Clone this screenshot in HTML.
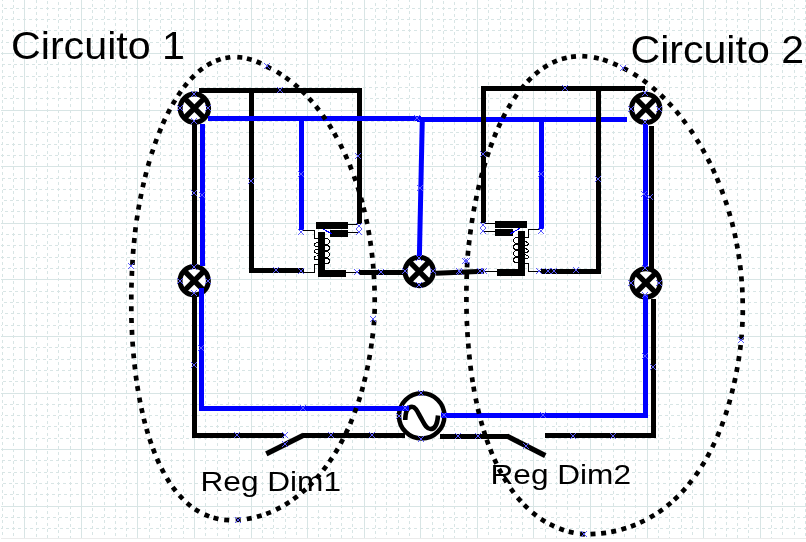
<!DOCTYPE html>
<html><head><meta charset="utf-8"><style>html,body{margin:0;padding:0;background:#fff;overflow:hidden}svg{display:block}</style></head>
<body><svg width="806" height="542" viewBox="0 0 806 542">
<defs><clipPath id="gc"><rect x="1" y="0" width="806" height="539"/></clipPath></defs>
<rect width="806" height="542" fill="#fff"/>
<g shape-rendering="crispEdges">
<line x1="2.5" y1="-2" x2="2.5" y2="539" stroke="#d8e5e5" stroke-width="1" stroke-dasharray="3 3"/>
<line x1="13.5" y1="-1" x2="13.5" y2="539" stroke="#d8e5e5" stroke-width="1" stroke-dasharray="3 3"/>
<rect x="24" y="0" width="1" height="539" fill="#d8e5e5"/>
<line x1="36.5" y1="-6" x2="36.5" y2="539" stroke="#d8e5e5" stroke-width="1" stroke-dasharray="3 3"/>
<line x1="47.5" y1="-5" x2="47.5" y2="539" stroke="#d8e5e5" stroke-width="1" stroke-dasharray="3 3"/>
<line x1="58.5" y1="-4" x2="58.5" y2="539" stroke="#d8e5e5" stroke-width="1" stroke-dasharray="3 3"/>
<line x1="70.5" y1="-4" x2="70.5" y2="539" stroke="#d8e5e5" stroke-width="1" stroke-dasharray="3 3"/>
<rect x="81" y="0" width="1" height="539" fill="#d8e5e5"/>
<line x1="92.5" y1="-2" x2="92.5" y2="539" stroke="#d8e5e5" stroke-width="1" stroke-dasharray="3 3"/>
<line x1="104.5" y1="-2" x2="104.5" y2="539" stroke="#d8e5e5" stroke-width="1" stroke-dasharray="3 3"/>
<line x1="115.5" y1="-1" x2="115.5" y2="539" stroke="#d8e5e5" stroke-width="1" stroke-dasharray="3 3"/>
<line x1="126.5" y1="-6" x2="126.5" y2="539" stroke="#d8e5e5" stroke-width="1" stroke-dasharray="3 3"/>
<rect x="137" y="0" width="1" height="539" fill="#d8e5e5"/>
<line x1="149.5" y1="-5" x2="149.5" y2="539" stroke="#d8e5e5" stroke-width="1" stroke-dasharray="3 3"/>
<line x1="160.5" y1="-4" x2="160.5" y2="539" stroke="#d8e5e5" stroke-width="1" stroke-dasharray="3 3"/>
<line x1="171.5" y1="-3" x2="171.5" y2="539" stroke="#d8e5e5" stroke-width="1" stroke-dasharray="3 3"/>
<line x1="183.5" y1="-3" x2="183.5" y2="539" stroke="#d8e5e5" stroke-width="1" stroke-dasharray="3 3"/>
<rect x="194" y="0" width="1" height="539" fill="#d8e5e5"/>
<line x1="205.5" y1="-1" x2="205.5" y2="539" stroke="#d8e5e5" stroke-width="1" stroke-dasharray="3 3"/>
<line x1="217.5" y1="-1" x2="217.5" y2="539" stroke="#d8e5e5" stroke-width="1" stroke-dasharray="3 3"/>
<line x1="228.5" y1="-6" x2="228.5" y2="539" stroke="#d8e5e5" stroke-width="1" stroke-dasharray="3 3"/>
<line x1="239.5" y1="-5" x2="239.5" y2="539" stroke="#d8e5e5" stroke-width="1" stroke-dasharray="3 3"/>
<rect x="251" y="0" width="1" height="539" fill="#d8e5e5"/>
<line x1="262.5" y1="-4" x2="262.5" y2="539" stroke="#d8e5e5" stroke-width="1" stroke-dasharray="3 3"/>
<line x1="273.5" y1="-3" x2="273.5" y2="539" stroke="#d8e5e5" stroke-width="1" stroke-dasharray="3 3"/>
<line x1="285.5" y1="-3" x2="285.5" y2="539" stroke="#d8e5e5" stroke-width="1" stroke-dasharray="3 3"/>
<line x1="296.5" y1="-2" x2="296.5" y2="539" stroke="#d8e5e5" stroke-width="1" stroke-dasharray="3 3"/>
<rect x="307" y="0" width="1" height="539" fill="#d8e5e5"/>
<line x1="318.5" y1="-6" x2="318.5" y2="539" stroke="#d8e5e5" stroke-width="1" stroke-dasharray="3 3"/>
<line x1="330.5" y1="-6" x2="330.5" y2="539" stroke="#d8e5e5" stroke-width="1" stroke-dasharray="3 3"/>
<line x1="341.5" y1="-5" x2="341.5" y2="539" stroke="#d8e5e5" stroke-width="1" stroke-dasharray="3 3"/>
<line x1="352.5" y1="-4" x2="352.5" y2="539" stroke="#d8e5e5" stroke-width="1" stroke-dasharray="3 3"/>
<rect x="364" y="0" width="1" height="539" fill="#d8e5e5"/>
<line x1="375.5" y1="-3" x2="375.5" y2="539" stroke="#d8e5e5" stroke-width="1" stroke-dasharray="3 3"/>
<line x1="386.5" y1="-2" x2="386.5" y2="539" stroke="#d8e5e5" stroke-width="1" stroke-dasharray="3 3"/>
<line x1="398.5" y1="-2" x2="398.5" y2="539" stroke="#d8e5e5" stroke-width="1" stroke-dasharray="3 3"/>
<line x1="409.5" y1="-1" x2="409.5" y2="539" stroke="#d8e5e5" stroke-width="1" stroke-dasharray="3 3"/>
<rect x="420" y="0" width="1" height="539" fill="#d8e5e5"/>
<line x1="432.5" y1="-6" x2="432.5" y2="539" stroke="#d8e5e5" stroke-width="1" stroke-dasharray="3 3"/>
<line x1="443.5" y1="-5" x2="443.5" y2="539" stroke="#d8e5e5" stroke-width="1" stroke-dasharray="3 3"/>
<line x1="454.5" y1="-4" x2="454.5" y2="539" stroke="#d8e5e5" stroke-width="1" stroke-dasharray="3 3"/>
<line x1="466.5" y1="-4" x2="466.5" y2="539" stroke="#d8e5e5" stroke-width="1" stroke-dasharray="3 3"/>
<rect x="477" y="0" width="1" height="539" fill="#d8e5e5"/>
<line x1="488.5" y1="-2" x2="488.5" y2="539" stroke="#d8e5e5" stroke-width="1" stroke-dasharray="3 3"/>
<line x1="500.5" y1="-2" x2="500.5" y2="539" stroke="#d8e5e5" stroke-width="1" stroke-dasharray="3 3"/>
<line x1="511.5" y1="-1" x2="511.5" y2="539" stroke="#d8e5e5" stroke-width="1" stroke-dasharray="3 3"/>
<line x1="522.5" y1="-6" x2="522.5" y2="539" stroke="#d8e5e5" stroke-width="1" stroke-dasharray="3 3"/>
<rect x="533" y="0" width="1" height="539" fill="#d8e5e5"/>
<line x1="545.5" y1="-5" x2="545.5" y2="539" stroke="#d8e5e5" stroke-width="1" stroke-dasharray="3 3"/>
<line x1="556.5" y1="-4" x2="556.5" y2="539" stroke="#d8e5e5" stroke-width="1" stroke-dasharray="3 3"/>
<line x1="567.5" y1="-3" x2="567.5" y2="539" stroke="#d8e5e5" stroke-width="1" stroke-dasharray="3 3"/>
<line x1="579.5" y1="-3" x2="579.5" y2="539" stroke="#d8e5e5" stroke-width="1" stroke-dasharray="3 3"/>
<rect x="590" y="0" width="1" height="539" fill="#d8e5e5"/>
<line x1="601.5" y1="-1" x2="601.5" y2="539" stroke="#d8e5e5" stroke-width="1" stroke-dasharray="3 3"/>
<line x1="613.5" y1="-1" x2="613.5" y2="539" stroke="#d8e5e5" stroke-width="1" stroke-dasharray="3 3"/>
<line x1="624.5" y1="-6" x2="624.5" y2="539" stroke="#d8e5e5" stroke-width="1" stroke-dasharray="3 3"/>
<line x1="635.5" y1="-5" x2="635.5" y2="539" stroke="#d8e5e5" stroke-width="1" stroke-dasharray="3 3"/>
<rect x="647" y="0" width="1" height="539" fill="#d8e5e5"/>
<line x1="658.5" y1="-4" x2="658.5" y2="539" stroke="#d8e5e5" stroke-width="1" stroke-dasharray="3 3"/>
<line x1="669.5" y1="-3" x2="669.5" y2="539" stroke="#d8e5e5" stroke-width="1" stroke-dasharray="3 3"/>
<line x1="681.5" y1="-3" x2="681.5" y2="539" stroke="#d8e5e5" stroke-width="1" stroke-dasharray="3 3"/>
<line x1="692.5" y1="-2" x2="692.5" y2="539" stroke="#d8e5e5" stroke-width="1" stroke-dasharray="3 3"/>
<rect x="703" y="0" width="1" height="539" fill="#d8e5e5"/>
<line x1="715.5" y1="-1" x2="715.5" y2="539" stroke="#d8e5e5" stroke-width="1" stroke-dasharray="3 3"/>
<line x1="726.5" y1="-6" x2="726.5" y2="539" stroke="#d8e5e5" stroke-width="1" stroke-dasharray="3 3"/>
<line x1="737.5" y1="-5" x2="737.5" y2="539" stroke="#d8e5e5" stroke-width="1" stroke-dasharray="3 3"/>
<line x1="748.5" y1="-4" x2="748.5" y2="539" stroke="#d8e5e5" stroke-width="1" stroke-dasharray="3 3"/>
<rect x="760" y="0" width="1" height="539" fill="#d8e5e5"/>
<line x1="771.5" y1="-3" x2="771.5" y2="539" stroke="#d8e5e5" stroke-width="1" stroke-dasharray="3 3"/>
<line x1="782.5" y1="-2" x2="782.5" y2="539" stroke="#d8e5e5" stroke-width="1" stroke-dasharray="3 3"/>
<line x1="794.5" y1="-2" x2="794.5" y2="539" stroke="#d8e5e5" stroke-width="1" stroke-dasharray="3 3"/>
<line x1="805.5" y1="-1" x2="805.5" y2="539" stroke="#d8e5e5" stroke-width="1" stroke-dasharray="3 3"/>
<line x1="-2" y1="8.5" x2="806" y2="8.5" stroke="#d8e5e5" stroke-width="1" stroke-dasharray="3 3" clip-path="url(#gc)"/>
<line x1="-1" y1="19.5" x2="806" y2="19.5" stroke="#d8e5e5" stroke-width="1" stroke-dasharray="3 3" clip-path="url(#gc)"/>
<line x1="-6" y1="30.5" x2="806" y2="30.5" stroke="#d8e5e5" stroke-width="1" stroke-dasharray="3 3" clip-path="url(#gc)"/>
<line x1="-6" y1="42.5" x2="806" y2="42.5" stroke="#d8e5e5" stroke-width="1" stroke-dasharray="3 3" clip-path="url(#gc)"/>
<rect x="1" y="53" width="805" height="1" fill="#d8e5e5"/>
<line x1="-4" y1="64.5" x2="806" y2="64.5" stroke="#d8e5e5" stroke-width="1" stroke-dasharray="3 3" clip-path="url(#gc)"/>
<line x1="-4" y1="76.5" x2="806" y2="76.5" stroke="#d8e5e5" stroke-width="1" stroke-dasharray="3 3" clip-path="url(#gc)"/>
<line x1="-3" y1="87.5" x2="806" y2="87.5" stroke="#d8e5e5" stroke-width="1" stroke-dasharray="3 3" clip-path="url(#gc)"/>
<line x1="-2" y1="98.5" x2="806" y2="98.5" stroke="#d8e5e5" stroke-width="1" stroke-dasharray="3 3" clip-path="url(#gc)"/>
<rect x="1" y="110" width="805" height="1" fill="#d8e5e5"/>
<line x1="-1" y1="121.5" x2="806" y2="121.5" stroke="#d8e5e5" stroke-width="1" stroke-dasharray="3 3" clip-path="url(#gc)"/>
<line x1="-6" y1="132.5" x2="806" y2="132.5" stroke="#d8e5e5" stroke-width="1" stroke-dasharray="3 3" clip-path="url(#gc)"/>
<line x1="-6" y1="144.5" x2="806" y2="144.5" stroke="#d8e5e5" stroke-width="1" stroke-dasharray="3 3" clip-path="url(#gc)"/>
<line x1="-5" y1="155.5" x2="806" y2="155.5" stroke="#d8e5e5" stroke-width="1" stroke-dasharray="3 3" clip-path="url(#gc)"/>
<rect x="1" y="166" width="805" height="1" fill="#d8e5e5"/>
<line x1="-4" y1="178.5" x2="806" y2="178.5" stroke="#d8e5e5" stroke-width="1" stroke-dasharray="3 3" clip-path="url(#gc)"/>
<line x1="-3" y1="189.5" x2="806" y2="189.5" stroke="#d8e5e5" stroke-width="1" stroke-dasharray="3 3" clip-path="url(#gc)"/>
<line x1="-2" y1="200.5" x2="806" y2="200.5" stroke="#d8e5e5" stroke-width="1" stroke-dasharray="3 3" clip-path="url(#gc)"/>
<line x1="-1" y1="211.5" x2="806" y2="211.5" stroke="#d8e5e5" stroke-width="1" stroke-dasharray="3 3" clip-path="url(#gc)"/>
<rect x="1" y="223" width="805" height="1" fill="#d8e5e5"/>
<line x1="-6" y1="234.5" x2="806" y2="234.5" stroke="#d8e5e5" stroke-width="1" stroke-dasharray="3 3" clip-path="url(#gc)"/>
<line x1="-5" y1="245.5" x2="806" y2="245.5" stroke="#d8e5e5" stroke-width="1" stroke-dasharray="3 3" clip-path="url(#gc)"/>
<line x1="-5" y1="257.5" x2="806" y2="257.5" stroke="#d8e5e5" stroke-width="1" stroke-dasharray="3 3" clip-path="url(#gc)"/>
<line x1="-4" y1="268.5" x2="806" y2="268.5" stroke="#d8e5e5" stroke-width="1" stroke-dasharray="3 3" clip-path="url(#gc)"/>
<rect x="1" y="279" width="805" height="1" fill="#d8e5e5"/>
<line x1="-3" y1="291.5" x2="806" y2="291.5" stroke="#d8e5e5" stroke-width="1" stroke-dasharray="3 3" clip-path="url(#gc)"/>
<line x1="-2" y1="302.5" x2="806" y2="302.5" stroke="#d8e5e5" stroke-width="1" stroke-dasharray="3 3" clip-path="url(#gc)"/>
<line x1="-1" y1="313.5" x2="806" y2="313.5" stroke="#d8e5e5" stroke-width="1" stroke-dasharray="3 3" clip-path="url(#gc)"/>
<line x1="-1" y1="325.5" x2="806" y2="325.5" stroke="#d8e5e5" stroke-width="1" stroke-dasharray="3 3" clip-path="url(#gc)"/>
<rect x="1" y="336" width="805" height="1" fill="#d8e5e5"/>
<line x1="-5" y1="347.5" x2="806" y2="347.5" stroke="#d8e5e5" stroke-width="1" stroke-dasharray="3 3" clip-path="url(#gc)"/>
<line x1="-5" y1="359.5" x2="806" y2="359.5" stroke="#d8e5e5" stroke-width="1" stroke-dasharray="3 3" clip-path="url(#gc)"/>
<line x1="-4" y1="370.5" x2="806" y2="370.5" stroke="#d8e5e5" stroke-width="1" stroke-dasharray="3 3" clip-path="url(#gc)"/>
<line x1="-3" y1="381.5" x2="806" y2="381.5" stroke="#d8e5e5" stroke-width="1" stroke-dasharray="3 3" clip-path="url(#gc)"/>
<rect x="1" y="393" width="805" height="1" fill="#d8e5e5"/>
<line x1="-2" y1="404.5" x2="806" y2="404.5" stroke="#d8e5e5" stroke-width="1" stroke-dasharray="3 3" clip-path="url(#gc)"/>
<line x1="-1" y1="415.5" x2="806" y2="415.5" stroke="#d8e5e5" stroke-width="1" stroke-dasharray="3 3" clip-path="url(#gc)"/>
<line x1="-6" y1="426.5" x2="806" y2="426.5" stroke="#d8e5e5" stroke-width="1" stroke-dasharray="3 3" clip-path="url(#gc)"/>
<line x1="-6" y1="438.5" x2="806" y2="438.5" stroke="#d8e5e5" stroke-width="1" stroke-dasharray="3 3" clip-path="url(#gc)"/>
<rect x="1" y="449" width="805" height="1" fill="#d8e5e5"/>
<line x1="-4" y1="460.5" x2="806" y2="460.5" stroke="#d8e5e5" stroke-width="1" stroke-dasharray="3 3" clip-path="url(#gc)"/>
<line x1="-4" y1="472.5" x2="806" y2="472.5" stroke="#d8e5e5" stroke-width="1" stroke-dasharray="3 3" clip-path="url(#gc)"/>
<line x1="-3" y1="483.5" x2="806" y2="483.5" stroke="#d8e5e5" stroke-width="1" stroke-dasharray="3 3" clip-path="url(#gc)"/>
<line x1="-2" y1="494.5" x2="806" y2="494.5" stroke="#d8e5e5" stroke-width="1" stroke-dasharray="3 3" clip-path="url(#gc)"/>
<rect x="1" y="506" width="805" height="1" fill="#d8e5e5"/>
<line x1="-1" y1="517.5" x2="806" y2="517.5" stroke="#d8e5e5" stroke-width="1" stroke-dasharray="3 3" clip-path="url(#gc)"/>
<line x1="-6" y1="528.5" x2="806" y2="528.5" stroke="#d8e5e5" stroke-width="1" stroke-dasharray="3 3" clip-path="url(#gc)"/>
<rect x="1" y="538" width="805" height="1" fill="#ebebeb"/>
</g>
<g style="filter:grayscale(1)"><text x="11" y="59" font-family="Liberation Sans, sans-serif" font-size="38" textLength="174" lengthAdjust="spacingAndGlyphs" fill="#000">Circuito 1</text><text x="630.5" y="62.5" font-family="Liberation Sans, sans-serif" font-size="38" textLength="173.5" lengthAdjust="spacingAndGlyphs" fill="#000">Circuito 2</text><text x="200.5" y="491.4" font-family="Liberation Sans, sans-serif" font-size="28.5" textLength="140.5" lengthAdjust="spacingAndGlyphs" fill="#000">Reg Dim1</text><text x="490.5" y="484.4" font-family="Liberation Sans, sans-serif" font-size="28.5" textLength="140.5" lengthAdjust="spacingAndGlyphs" fill="#000">Reg Dim2</text></g>
<circle cx="194.4" cy="108.2" r="14.2" fill="#fff" stroke="#000" stroke-width="5.0"/><path d="M184.35918,98.15918L204.44082,118.24082M204.44082,98.15918L184.35918,118.24082" stroke="#000" stroke-width="5.4"/>
<circle cx="194.2" cy="280.8" r="14.2" fill="#fff" stroke="#000" stroke-width="5.0"/><path d="M184.15918,270.75918L204.24081999999999,290.84082M204.24081999999999,270.75918L184.15918,290.84082" stroke="#000" stroke-width="5.4"/>
<circle cx="419.2" cy="271.5" r="14.2" fill="#fff" stroke="#000" stroke-width="5.0"/><path d="M409.15918,261.45918L429.24082,281.54082M429.24082,261.45918L409.15918,281.54082" stroke="#000" stroke-width="5.4"/>
<circle cx="645.7" cy="108.5" r="14.2" fill="#fff" stroke="#000" stroke-width="5.0"/><path d="M635.65918,98.45918L655.7408200000001,118.54082M655.7408200000001,98.45918L635.65918,118.54082" stroke="#000" stroke-width="5.4"/>
<circle cx="645.85" cy="282.85" r="14.2" fill="#fff" stroke="#000" stroke-width="5.0"/><path d="M635.80918,272.80918L655.8908200000001,292.89082M655.8908200000001,272.80918L635.80918,292.89082" stroke="#000" stroke-width="5.4"/>
<circle cx="421.7" cy="415.9" r="22.7" fill="#fff" stroke="#000" stroke-width="4.5"/><path d="M405.2,420 C405.5,409 408.5,406.8 412,406.8 C416,406.8 418,413 421,418 C424,423 426,429 430.5,429 C435,429 437.5,423 438,415.5" fill="none" stroke="#000" stroke-width="4.6"/>
<g shape-rendering="crispEdges"><rect x="316" y="222" width="32" height="7" fill="#000"/>
<rect x="330" y="230" width="18" height="7" fill="#000"/>
<rect x="318" y="232" width="7" height="45" fill="#000"/>
<rect x="318" y="270" width="28" height="7" fill="#000"/>
<path d="M303,230.5H314.5V238.5H318" stroke="#000" stroke-width="1" fill="none"/>
<path d="M348,224.5H357" stroke="#000" stroke-width="1" fill="none"/>
<path d="M348,232.5H358" stroke="#000" stroke-width="1" fill="none"/>
<path d="M346,272.5H359" stroke="#000" stroke-width="1" fill="none"/>
<path d="M318,264.5H314.5V272.5H303" stroke="#000" stroke-width="1" fill="none"/>
<path d="M318,242.8c-5.2,0 -5.2,4 0,4 M318,249.3c-5.2,0 -5.2,4 0,4 M318,255.89999999999998c-5.2,0 -5.2,4 0,4" stroke="#000" stroke-width="1" fill="none"/>
<path d="M325,238.5c6,0 6,6 0,6 M325,245c6,0 6,6 0,6 M325,251.5c6,0 6,6 0,6 M325,258c6,0 6,6 0,6" stroke="#000" stroke-width="1" fill="none"/>
<line x1="323" y1="229" x2="331.6" y2="233.7" stroke="#0000ff" stroke-width="1.2"/><rect x="495" y="221" width="32" height="7" fill="#000"/>
<rect x="495" y="229" width="18" height="7" fill="#000"/>
<rect x="518" y="231" width="7" height="45" fill="#000"/>
<rect x="497" y="269" width="28" height="7" fill="#000"/>
<path d="M539,229.5H528.5V237.5H525" stroke="#000" stroke-width="1" fill="none"/>
<path d="M485,223.5H495" stroke="#000" stroke-width="1" fill="none"/>
<path d="M484,231.5H495" stroke="#000" stroke-width="1" fill="none"/>
<path d="M484,271.5H497" stroke="#000" stroke-width="1" fill="none"/>
<path d="M525,263.5H528.5V271.5H541" stroke="#000" stroke-width="1" fill="none"/>
<path d="M518,237.5c-6,0 -6,6 0,6 M518,244c-6,0 -6,6 0,6 M518,250.5c-6,0 -6,6 0,6 M518,257c-6,0 -6,6 0,6" stroke="#000" stroke-width="1" fill="none"/>
<path d="M525,241.8c4.6,0 4.6,4 0,4 M525,248.8c4.6,0 4.6,4 0,4 M525,254.89999999999998c4.6,0 4.6,4 0,4" stroke="#000" stroke-width="1" fill="none"/>
<line x1="510.1" y1="233.7" x2="519.7" y2="228.5" stroke="#0000ff" stroke-width="1.2"/></g>
<g shape-rendering="crispEdges">
<rect x="199" y="88" width="163" height="5" fill="#000"/>
<rect x="249" y="88" width="5" height="185" fill="#000"/>
<rect x="249" y="268" width="55" height="5" fill="#000"/>
<rect x="357" y="88" width="5" height="136" fill="#000"/>
<rect x="192" y="124" width="5" height="141" fill="#000"/>
<rect x="192" y="297" width="5" height="141" fill="#000"/>
<rect x="192" y="433" width="92" height="5" fill="#000"/>
<rect x="303" y="433" width="102" height="5" fill="#000"/>
<rect x="359" y="270" width="44" height="5" fill="#000"/>
<rect x="208" y="116" width="213" height="5" fill="#0000ff"/>
<rect x="417" y="117" width="210" height="5" fill="#0000ff"/>
<rect x="299" y="116" width="5" height="114" fill="#0000ff"/>
<rect x="200" y="124" width="5" height="142" fill="#0000ff"/>
<rect x="199" y="288" width="5" height="123" fill="#0000ff"/>
<rect x="199" y="406" width="210" height="5" fill="#0000ff"/>
<rect x="481" y="86" width="164" height="5" fill="#000"/>
<rect x="481" y="86" width="5" height="137" fill="#000"/>
<rect x="596" y="86" width="5" height="188" fill="#000"/>
<rect x="541" y="269" width="60" height="5" fill="#000"/>
<rect x="649" y="126" width="5" height="144" fill="#000"/>
<rect x="651" y="299" width="5" height="139" fill="#000"/>
<rect x="545" y="433" width="111" height="5" fill="#000"/>
<rect x="440" y="434" width="68" height="5" fill="#000"/>
<rect x="539" y="117" width="5" height="112" fill="#0000ff"/>
<rect x="643" y="124" width="5" height="143" fill="#0000ff"/>
<rect x="643" y="295" width="5" height="123" fill="#0000ff"/>
<rect x="441" y="413" width="207" height="5" fill="#0000ff"/>
</g>
<line x1="422.3" y1="119" x2="419.4" y2="256" stroke="#0000ff" stroke-width="5"/>
<line x1="436" y1="273.3" x2="484" y2="271.3" stroke="#000" stroke-width="5"/>
<line x1="266.3" y1="453.9" x2="303.7" y2="435.2" stroke="#000" stroke-width="5.2"/>
<line x1="507" y1="436" x2="545.3" y2="455.6" stroke="#000" stroke-width="5.2"/>
<path d="M266.4,66.5L271.0,68.6M276.9,71.8L281.2,74.4M285.5,77.3L289.5,80.3M294.4,84.2L298.2,87.5M301.8,90.9L305.4,94.4M308.9,98.2L312.2,101.9M315.9,106.3L319.0,110.2M322.7,115.3L325.5,119.4M329.0,124.5L331.6,128.8M334.2,133.3L336.7,137.6M340.2,144.2L342.4,148.7M345.2,154.5L347.2,159.1M349.7,164.9L351.5,169.6M354.0,176.2L355.7,180.9M357.7,187.1L359.2,191.8M361.0,197.9L362.3,202.7M363.5,207.5L364.7,212.3M366.2,219.2L367.3,224.1M368.4,230.2L369.3,235.2M370.2,240.9L370.9,245.9M371.8,252.7L372.4,257.7M373.0,263.7L373.4,268.6M373.8,274.3L374.1,279.2M374.4,285.7L374.6,290.7M374.7,297.3L374.7,302.3M374.7,308.9L374.5,313.9M374.2,320.2L373.8,325.2M372.9,333.4L372.3,338.4M371.6,343.5L370.9,348.5M369.9,354.9L369.0,359.8M367.9,365.5L366.9,370.4M365.4,376.9L364.2,381.7M362.9,386.8L361.6,391.6M360.0,397.0L358.5,401.7M356.3,408.0L354.6,412.7M352.1,419.2L350.2,423.8M347.9,429.1L345.7,433.6M342.9,439.2L340.6,443.6M337.8,448.7L335.2,452.9M332.1,457.9L329.3,462.0M326.3,466.2L323.3,470.2M319.8,474.5L316.5,478.3M312.8,482.3L309.3,485.9M305.8,489.2L302.0,492.5M297.5,496.2L293.5,499.2M289.4,502.0L285.2,504.7M280.5,507.4L276.1,509.7M270.9,512.1L266.2,513.9M261.7,515.4L256.9,516.8M251.7,518.1L246.8,519.0M240.7,519.7L235.7,520.0M229.2,520.2L224.2,519.8M218.4,519.0L213.5,517.8M209.2,516.4L204.6,514.5M199.2,511.8L195.0,509.2M190.8,506.2L187.0,503.0M182.8,499.0L179.4,495.4M175.7,491.0L172.7,487.1M169.5,482.4L166.9,478.2M163.9,473.0L161.6,468.6M159.1,463.4L157.0,458.8M154.8,453.4L153.0,448.7M151.2,443.8L149.6,439.0M147.9,433.7L146.5,428.9M145.0,423.5L143.8,418.7M142.5,413.1L141.4,408.2M140.2,402.5L139.3,397.6M138.1,390.9L137.3,386.0M136.5,380.6L135.8,375.6M135.1,369.4L134.5,364.4M133.9,358.3L133.4,353.4M132.9,346.6L132.5,341.6M132.1,334.8L131.9,329.8M131.6,323.0L131.4,318.0M131.3,311.2L131.3,306.2M131.3,299.4L131.3,294.4M131.4,287.6L131.6,282.6M131.8,275.9L132.0,270.9M132.4,264.8L132.6,259.8M133.0,253.9L133.4,248.9M134.0,242.9L134.5,237.9M135.1,232.2L135.7,227.2M136.6,220.5L137.4,215.5M138.3,209.7L139.2,204.7M140.3,198.8L141.3,193.9M142.7,187.3L143.8,182.5M145.1,177.1L146.3,172.3M148.0,166.0L149.4,161.2M151.5,154.1L153.1,149.4M155.0,143.7L156.7,139.0M159.0,133.1L160.9,128.5M162.9,123.7L165.0,119.1M167.6,113.8L169.9,109.3M172.6,104.4L175.2,100.1M178.1,95.5L180.9,91.4M184.0,87.1L187.1,83.2M190.8,79.1L194.3,75.5M198.6,71.5L202.6,68.4M207.1,65.3L211.5,62.9M216.0,60.8L220.7,59.1M225.4,58.0L230.3,57.2M237.3,57.1L242.3,57.5M246.9,58.4L251.7,59.7M256.6,61.5L261.1,63.5M623.3,68.1L627.7,70.4M633.4,73.8L637.7,76.5M643.0,80.2L647.0,83.2M652.4,87.5L656.2,90.8M660.8,95.0L664.4,98.5M668.6,102.8L672.0,106.4M676.1,111.1L679.3,115.0M682.9,119.6L686.0,123.6M690.3,129.6L693.1,133.7M696.7,139.4L699.3,143.6M702.3,148.7L704.7,153.1M707.8,158.9L710.1,163.3M712.6,168.6L714.7,173.2M716.9,178.2L718.8,182.9M721.4,189.4L723.1,194.1M725.3,200.2L726.9,205.0M728.8,211.3L730.2,216.1M731.9,222.1L733.1,227.0M734.6,233.2L735.6,238.1M736.7,243.6L737.6,248.5M738.5,254.1L739.3,259.0M740.1,265.2L740.7,270.2M741.3,276.4L741.7,281.4M742.2,287.4L742.4,292.4M742.6,298.3L742.7,303.3M742.8,310.1L742.7,315.1M742.5,321.9L742.2,326.9M741.7,334.6L741.3,339.6M740.7,345.0L740.1,349.9M739.2,356.1L738.4,361.1M737.4,367.1L736.5,372.0M735.3,378.0L734.2,382.9M732.9,388.5L731.7,393.4M730.1,399.6L728.8,404.4M727.0,410.2L725.5,415.0M723.2,421.5L721.5,426.2M719.2,431.9L717.3,436.5M714.5,442.8L712.3,447.3M709.6,452.7L707.2,457.1M704.4,462.1L701.7,466.3M698.5,471.4L695.6,475.5M691.8,480.5L688.7,484.4M685.4,488.4L682.0,492.1M678.0,496.3L674.3,499.7M671.0,502.7L667.1,505.9M662.7,509.4L658.6,512.3M654.3,515.0L650.0,517.6M644.6,520.5L640.1,522.7M635.5,524.7L630.9,526.5M626.2,528.1L621.4,529.5M616.1,530.9L611.2,531.9M606.1,532.8L601.1,533.4M595.5,533.9L590.5,534.2M585.0,534.4L580.0,533.9M573.6,532.7L568.7,531.6M564.0,530.2L559.3,528.5M554.3,526.4L549.8,524.2M545.2,521.7L541.0,519.0M536.4,515.7L532.5,512.6M527.8,508.4L524.2,504.9M520.9,501.4L517.6,497.6M513.7,492.6L510.8,488.6M506.6,482.3L504.0,478.0M501.4,473.4L499.0,469.0M496.5,463.8L494.4,459.3M492.2,454.1L490.3,449.4M488.4,444.4L486.7,439.7M485.3,435.6L483.8,430.8M482.3,425.7L480.9,420.9M479.1,413.8L477.9,408.9M476.7,403.4L475.7,398.5M474.3,391.6L473.5,386.7M472.7,382.2L472.0,377.3M471.0,370.7L470.4,365.8M469.7,359.6L469.2,354.6M468.6,348.5L468.2,343.5M467.7,337.1L467.4,332.1M467.1,326.0L466.8,321.0M466.6,313.9L466.5,308.9M466.4,302.0L466.4,297.0M466.4,290.7L466.5,285.7M466.6,279.0L466.8,274.0M467.0,267.3L467.3,262.3M467.7,255.7L468.2,250.7M468.8,245.1L469.4,240.1M470.1,234.3L470.8,229.3M471.7,223.0L472.5,218.0M473.6,211.4L474.5,206.5M475.7,200.8L476.7,195.9M478.0,190.0L479.1,185.1M480.9,178.0L482.2,173.2M483.9,167.3L485.3,162.5M487.1,156.7L488.7,152.0M490.3,147.4L492.1,142.7M494.2,137.1L496.1,132.5M498.3,127.5L500.4,123.0M502.8,118.0L505.1,113.6M508.1,108.2L510.7,103.9M514.1,98.6L516.9,94.5M521.3,88.7L524.5,84.9M527.6,81.5L531.1,77.9M535.2,74.1L539.1,71.0M543.3,67.9L547.6,65.3M552.4,62.7L557.0,60.7M561.8,59.0L566.7,57.7M571.0,56.9L576.0,56.4M582.3,56.2L587.3,56.5M593.9,57.4L598.8,58.5M602.9,59.6L607.7,61.2M613.1,63.3L617.6,65.4" fill="none" stroke="#000" stroke-width="4.7"/>
<defs><g id="mk" fill="#5a5aff"><rect x="0" y="0" width="1" height="1"/><rect x="5" y="0" width="1" height="1"/><rect x="1" y="1" width="1" height="1"/><rect x="4" y="1" width="1" height="1"/><rect x="2" y="2" width="1" height="1"/><rect x="3" y="2" width="1" height="1"/><rect x="3" y="3" width="1" height="1"/><rect x="2" y="3" width="1" height="1"/><rect x="4" y="4" width="1" height="1"/><rect x="1" y="4" width="1" height="1"/><rect x="5" y="5" width="1" height="1"/><rect x="0" y="5" width="1" height="1"/></g></defs><g shape-rendering="crispEdges"><use href="#mk" x="191" y="91"/><use href="#mk" x="177" y="105"/><use href="#mk" x="205" y="105"/><use href="#mk" x="191" y="118"/><use href="#mk" x="277" y="87"/><use href="#mk" x="264" y="63"/><use href="#mk" x="248" y="178"/><use href="#mk" x="298" y="171"/><use href="#mk" x="355" y="153"/><use href="#mk" x="191" y="190"/><use href="#mk" x="199" y="192"/><use href="#mk" x="128" y="263"/><use href="#mk" x="191" y="264"/><use href="#mk" x="177" y="278"/><use href="#mk" x="205" y="278"/><use href="#mk" x="191" y="290"/><use href="#mk" x="273" y="267"/><use href="#mk" x="298" y="268"/><use href="#mk" x="198" y="345"/><use href="#mk" x="191" y="362"/><use href="#mk" x="298" y="229"/><use href="#mk" x="356" y="223"/><use href="#mk" x="356" y="229"/><use href="#mk" x="354" y="269"/><use href="#mk" x="378" y="269"/><use href="#mk" x="402" y="268"/><use href="#mk" x="430" y="268"/><use href="#mk" x="457" y="269"/><use href="#mk" x="464" y="258"/><use href="#mk" x="477" y="268"/><use href="#mk" x="481" y="268"/><use href="#mk" x="416" y="255"/><use href="#mk" x="402" y="268"/><use href="#mk" x="430" y="268"/><use href="#mk" x="416" y="282"/><use href="#mk" x="414" y="115"/><use href="#mk" x="417" y="185"/><use href="#mk" x="370" y="316"/><use href="#mk" x="235" y="517"/><use href="#mk" x="234" y="432"/><use href="#mk" x="282" y="432"/><use href="#mk" x="282" y="441"/><use href="#mk" x="300" y="405"/><use href="#mk" x="328" y="432"/><use href="#mk" x="369" y="432"/><use href="#mk" x="402" y="405"/><use href="#mk" x="418" y="390"/><use href="#mk" x="396" y="413"/><use href="#mk" x="441" y="412"/><use href="#mk" x="418" y="436"/><use href="#mk" x="540" y="412"/><use href="#mk" x="455" y="433"/><use href="#mk" x="475" y="433"/><use href="#mk" x="523" y="443"/><use href="#mk" x="570" y="433"/><use href="#mk" x="610" y="433"/><use href="#mk" x="581" y="531"/><use href="#mk" x="738" y="337"/><use href="#mk" x="642" y="353"/><use href="#mk" x="650" y="364"/><use href="#mk" x="480" y="222"/><use href="#mk" x="480" y="228"/><use href="#mk" x="538" y="228"/><use href="#mk" x="462" y="258"/><use href="#mk" x="456" y="268"/><use href="#mk" x="536" y="268"/><use href="#mk" x="545" y="268"/><use href="#mk" x="551" y="268"/><use href="#mk" x="573" y="267"/><use href="#mk" x="642" y="265"/><use href="#mk" x="628" y="280"/><use href="#mk" x="656" y="280"/><use href="#mk" x="642" y="292"/><use href="#mk" x="641" y="191"/><use href="#mk" x="647" y="194"/><use href="#mk" x="562" y="85"/><use href="#mk" x="538" y="171"/><use href="#mk" x="595" y="176"/><use href="#mk" x="480" y="151"/><use href="#mk" x="620" y="65"/><use href="#mk" x="642" y="90"/><use href="#mk" x="628" y="106"/><use href="#mk" x="656" y="106"/><use href="#mk" x="642" y="119"/></g>
</svg></body></html>
